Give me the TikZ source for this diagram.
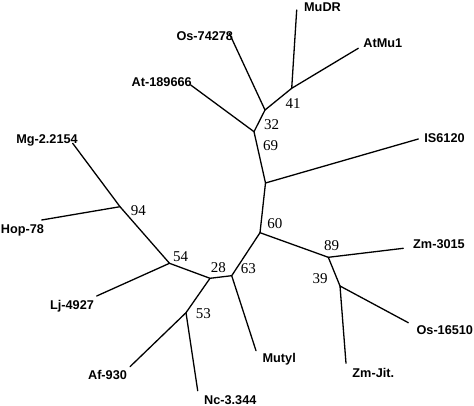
\documentclass[tikz,border=0pt]{standalone}
\usepackage{fontspec}
\setmainfont{Liberation Serif}
\newfontfamily\labfont{Liberation Sans}
\tikzset{
  leaflab/.style={font=\labfont\bfseries\fontsize{12.7}{14}\selectfont, inner sep=0pt, anchor=base},
  boot/.style={font=\fontsize{15}{17}\selectfont, inner sep=0pt, anchor=base},
  branch/.style={line width=1.3pt, line cap=round, line join=round}
}
\begin{document}
\begin{tikzpicture}[x=1pt,y=-1pt]
\useasboundingbox (0,0) rectangle (474,406);
% junctions
\coordinate (j41) at (291.7,88.3);
\coordinate (j32) at (265,110);
\coordinate (j69) at (254,131.7);
\coordinate (jIS) at (265.5,183);
\coordinate (j60) at (260,232.7);
\coordinate (j89) at (328.3,257.3);
\coordinate (j39) at (340,286);
\coordinate (j63) at (231.7,275.7);
\coordinate (j28) at (210,278.3);
\coordinate (j53) at (186,312.7);
\coordinate (j54) at (169.5,263.3);
\coordinate (j94) at (120,206.7);
% leaf ends
\coordinate (lMuDR) at (296.7,10);
\coordinate (lAtMu) at (358.3,48.3);
\coordinate (lOs74) at (229.3,33.3);
\coordinate (lAt18) at (190.7,85);
\coordinate (lIS) at (418.3,139);
\coordinate (lZm30) at (403.3,248.3);
\coordinate (lOs16) at (408.3,322.7);
\coordinate (lZmJ) at (346,363.3);
\coordinate (lMut) at (256,350.7);
\coordinate (lNc) at (197.7,390.7);
\coordinate (lAf) at (130,366.7);
\coordinate (lLj) at (96.7,296);
\coordinate (lMg) at (72.7,143.3);
\coordinate (lHop) at (41.7,220);
% branches
\draw[branch] (lMuDR) -- (j41) -- (lAtMu);
\draw[branch] (j41) -- (j32) -- (lOs74);
\draw[branch] (j32) -- (j69) -- (lAt18);
\draw[branch] (j69) -- (jIS) -- (lIS);
\draw[branch] (jIS) -- (j60);
\draw[branch] (j60) -- (j89) -- (lZm30);
\draw[branch] (j89) -- (j39) -- (lOs16);
\draw[branch] (j39) -- (lZmJ);
\draw[branch] (j60) -- (j63) -- (lMut);
\draw[branch] (j63) -- (j28) -- (j53) -- (lAf);
\draw[branch] (j53) -- (lNc);
\draw[branch] (j28) -- (j54) -- (lLj);
\draw[branch] (j54) -- (j94) -- (lMg);
\draw[branch] (j94) -- (lHop);
% leaf labels
\node[leaflab] (tMuDR) at (322.5,11.5) {MuDR};
\node[leaflab] (tAtMu) at (382.8,47.8) {AtMu1};
\node[leaflab] (tOs74) at (204.8,40.2) {Os-74278};
\node[leaflab] (tAt18) at (161.7,86.2) {At-189666};
\node[leaflab] (tIS) at (444.5,142.8) {IS6120};
\node[leaflab] (tMg) at (47,143.8) {Mg-2.2154};
\node[leaflab] (tHop) at (22.5,233.5) {Hop-78};
\node[leaflab] (tLj) at (72,309.5) {Lj-4927};
\node[leaflab] (tAf) at (107.5,379.5) {Af-930};
\node[leaflab] (tNc) at (230.3,404.5) {Nc-3.344};
\node[leaflab] (tMut) at (279.2,362.8) {Mutyl};
\node[leaflab] (tZmJ) at (373.3,377.2) {Zm-Jit.};
\node[leaflab] (tOs16) at (444.8,334.5) {Os-16510};
\node[leaflab] (tZm30) at (439,248.8) {Zm-3015};
% bootstrap values
\node[boot] (b41) at (293,108.1) {41};
\node[boot] (b32) at (271.7,129.1) {32};
\node[boot] (b69) at (270.7,150.8) {69};
\node[boot] (b60) at (274.8,229) {60};
\node[boot] (b89) at (331.7,250.1) {89};
\node[boot] (b39) at (320,283.4) {39};
\node[boot] (b63) at (248.3,273.4) {63};
\node[boot] (b28) at (218.3,272.4) {28};
\node[boot] (b54) at (180.7,261.8) {54};
\node[boot] (b53) at (203.3,318.4) {53};
\node[boot] (b94) at (138.3,215.1) {94};
\end{tikzpicture}
\end{document}
